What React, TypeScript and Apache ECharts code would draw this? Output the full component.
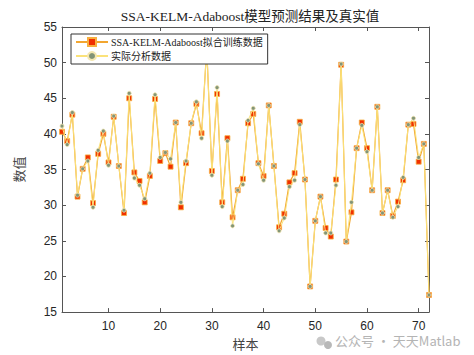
import React, { useEffect, useRef } from "react";
import * as echarts from "echarts";

const titleText = "SSA-KELM-Adaboost模型预测结果及真实值";
const seriesNames = ["SSA-KELM-Adaboost拟合训练数据", "实际分析数据"];
const xTicks = [10, 20, 30, 40, 50, 60, 70];

const predicted = [
  40.3, 39.0, 42.7, 31.2, 35.1, 36.7, 30.3, 37.2, 40.0, 36.0,
  42.4, 35.5, 28.9, 45.0, 34.6, 33.4, 30.4, 34.1, 44.9, 36.2,
  37.3, 35.4, 41.6, 29.7, 35.9, 41.5, 44.2, 40.1, 52.0, 34.8,
  45.6, 30.4, 39.4, 28.3, 32.1, 33.7, 41.5, 42.8, 35.9, 34.1,
  44.0, 35.5, 26.9, 28.8, 33.2, 34.5, 41.7, 33.6, 18.6, 27.8,
  31.2, 26.8, 25.6, 33.6, 49.7, 24.9, 29.0, 38.0, 41.6, 38.0,
  32.1, 43.8, 28.9, 32.1, 28.5, 30.5, 33.5, 41.3, 41.4, 36.1,
  38.6, 17.4,
];

const actual = [
  41.1, 38.5, 43.0, 31.4, 35.1, 36.2, 29.7, 37.7, 40.4, 35.6,
  42.5, 35.5, 29.3, 45.7, 33.8, 32.8, 30.9, 34.5, 45.5, 36.7,
  37.4, 36.5, 41.6, 30.4, 36.2, 41.5, 44.5, 39.4, 52.3, 34.2,
  46.5, 29.8, 39.0, 27.1, 32.1, 32.9, 41.9, 43.6, 35.8, 33.5,
  44.0, 35.5, 26.4, 28.2, 32.6, 33.5, 41.3, 33.6, 18.6, 27.8,
  31.2, 26.1, 26.1, 32.8, 49.8, 24.9, 30.4, 38.0, 41.2, 37.5,
  32.1, 43.8, 28.9, 32.1, 28.3, 29.8, 33.9, 41.3, 42.2, 36.7,
  38.6, 17.4,
];

const SERIF = "'Liberation Serif', 'Noto Sans CJK SC', serif";
const SANS = "'Liberation Sans', Arial, sans-serif";
const AXIS = "#555555";

export default function App() {
  const ref = useRef<HTMLDivElement>(null);
  useEffect(() => {
    if (!ref.current) return;
    const chart = echarts.init(ref.current, undefined, { renderer: "svg" });
    const toPairs = (arr: number[]) => arr.map((v, i) => [i + 1, v]);
    const hiddenAxisBase = {
      axisLine: { show: true, lineStyle: { color: AXIS, width: 1 } },
      axisLabel: { show: false },
      splitLine: { show: false },
    };
    chart.setOption({
      animation: false,
      backgroundColor: "#ffffff",
      title: {
        text: titleText,
        left: 245,
        textAlign: "center",
        top: 5,
        textStyle: { fontFamily: SERIF, fontSize: 13.5, fontWeight: "normal", color: "#222" },
      },
      legend: {
        orient: "vertical",
        left: 71,
        top: 34,
        padding: [3, 5, 3, 4],
        itemGap: 4,
        itemWidth: 32,
        itemHeight: 10,
        backgroundColor: "#ffffff",
        borderColor: "#333",
        borderWidth: 1,
        borderRadius: 0,
        textStyle: { fontFamily: SERIF, fontSize: 10, color: "#222", padding: [0, 0, 0, -2] },
        data: seriesNames,
      },
      grid: { left: 62, right: 45, top: 27, bottom: 40, show: false },
      xAxis: [
        {
          type: "value",
          min: 1,
          max: 72,
          axisLine: { show: true, lineStyle: { color: AXIS, width: 1 } },
          axisTick: { show: true, inside: true, length: 4, customValues: xTicks, lineStyle: { color: AXIS } },
          axisLabel: { customValues: xTicks, color: "#262626", fontFamily: SANS, fontSize: 12, margin: 8 },
          splitLine: { show: false },
          name: "样本",
          nameLocation: "middle",
          nameGap: 23,
          nameTextStyle: { fontFamily: "'Noto Sans CJK SC', sans-serif", fontSize: 13, color: "#444" },
        },
        {
          type: "value",
          position: "top",
          min: 1,
          max: 72,
          ...hiddenAxisBase,
          axisTick: { show: true, inside: true, length: 4, customValues: xTicks, lineStyle: { color: AXIS } },
        },
      ],
      yAxis: [
        {
          type: "value",
          min: 15,
          max: 55,
          interval: 5,
          axisLine: { show: true, lineStyle: { color: AXIS, width: 1 } },
          axisTick: { show: true, inside: true, length: 4, lineStyle: { color: AXIS } },
          axisLabel: { color: "#262626", fontFamily: SANS, fontSize: 12, margin: 5 },
          splitLine: { show: false },
          name: "数值",
          nameLocation: "middle",
          nameGap: 37,
          nameTextStyle: { fontFamily: "'Noto Sans CJK SC', sans-serif", fontSize: 13, color: "#444" },
        },
        {
          type: "value",
          position: "right",
          min: 15,
          max: 55,
          interval: 5,
          ...hiddenAxisBase,
          axisTick: { show: true, inside: true, length: 4, lineStyle: { color: AXIS } },
        },
      ],
      series: [
        {
          name: seriesNames[0],
          type: "line",
          data: toPairs(predicted),
          symbol: "rect",
          symbolSize: 5,
          lineStyle: { color: "#f2a630", width: 1.2 },
          itemStyle: { color: "#f03000", borderColor: "#f7b040", borderWidth: 0.8 },
          z: 2,
        },
        {
          name: seriesNames[1],
          type: "line",
          data: toPairs(actual),
          symbol: "circle",
          symbolSize: 4,
          lineStyle: { color: "#fbe27a", width: 1 },
          itemStyle: { color: "#829477", borderColor: "#f3e6b0", borderWidth: 0.8 },
          z: 3,
        },
      ],
      graphic: [
        { type: "circle", shape: { cx: 321, cy: 341, r: 4.5 }, style: { fill: "#c8c8c8" } },
        { type: "circle", shape: { cx: 328, cy: 345, r: 4 }, style: { fill: "#b8b8b8" } },
        {
          type: "text",
          x: 335,
          y: 334,
          style: {
            text: "公众号 · 天天Matlab",
            fill: "#b4b4b4",
            font: "13px 'Noto Sans CJK SC', sans-serif",
          },
        },
      ],
    });
    return () => chart.dispose();
  }, []);
  return <div ref={ref} style={{ width: 474, height: 355, marginLeft: -8, marginTop: -8 }} />;
}
